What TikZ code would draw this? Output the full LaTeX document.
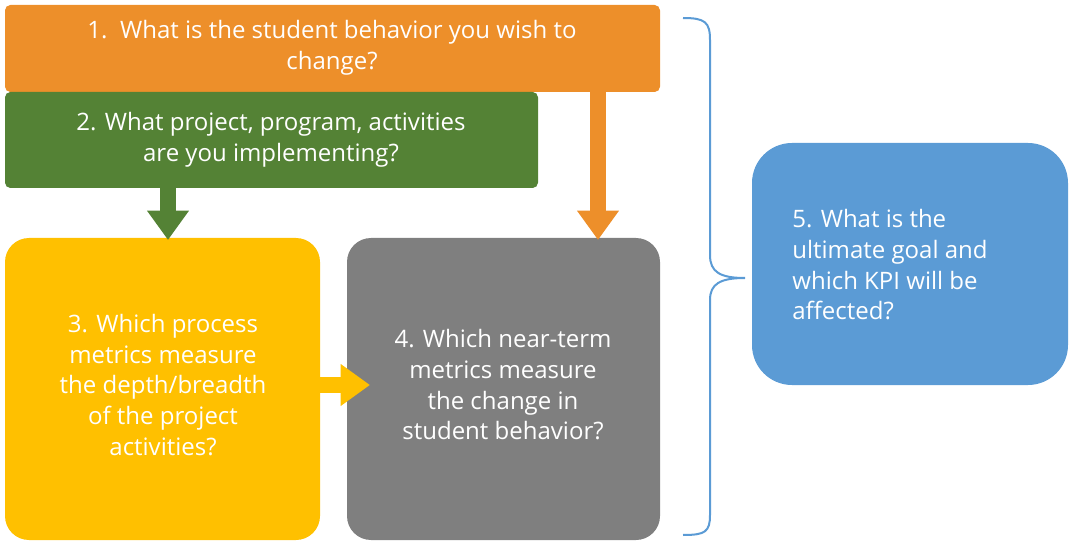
\documentclass[tikz,border=0pt]{standalone}
\usepackage{fontspec}
\setmainfont{Open Sans}
\usetikzlibrary{arrows.meta}
\definecolor{qorange}{RGB}{237,143,42}
\definecolor{qgreen}{RGB}{84,130,53}
\definecolor{qyellow}{RGB}{255,192,0}
\definecolor{qgray}{RGB}{127,127,127}
\definecolor{qblue}{RGB}{91,155,213}
\tikzset{
  qbox/.style={draw=none,text=white,align=center,font=\fontsize{18}{23}\selectfont,inner sep=0pt},
  blockarrow/.style={line width=12pt,-{Triangle[width=30pt,length=22pt]}}
}
\begin{document}
\begin{tikzpicture}[x=0.75pt,y=0.75pt,yscale=-1,xscale=1]
        \useasboundingbox (0,0) rectangle (1072,556);
        %Boxes
        \fill [qorange,rounded corners=4pt] (5,5) rectangle (660,92);
        \fill [qgreen,rounded corners=4pt] (5,92) rectangle (538,188);
        \fill [qyellow,rounded corners=18pt] (5,238) rectangle (320,540);
        \fill [qgray,rounded corners=18pt] (347,238) rectangle (660,540);
        \fill [qblue,rounded corners=30pt] (752,143) rectangle (1068,385);
        % Text Node
        \node [qbox] (q1) at (332,48) {1.\ \ What is the student behavior you wish to\\change?};
        \node [qbox] (q2) at (271,140) {2. What project, program, activities\\are you implementing?};
        \node [qbox] (q3) at (163,385) {3. Which process\\metrics measure\\the depth/breadth\\of the project\\activities?};
        \node [qbox] (q4) at (503,385) {4. Which near-term\\metrics measure\\the change in\\student behavior?};
        \node [qbox,align=left] (q5) at (890,265) {5. What is the\\ultimate goal and\\which KPI will be\\affected?};
        % Anchors
        \coordinate (g1) at (168,188);
        \coordinate (g2) at (168,240);
        \coordinate (o1) at (598,92);
        \coordinate (o2) at (598,240);
        \coordinate (y1) at (320,385);
        \coordinate (y2) at (370,385);
        % Arrows
        \draw [blockarrow,qgreen] (g1) -- (g2);
        \draw [blockarrow,qorange] (o1) -- (o2);
        \draw [blockarrow,qyellow] (y1) -- (y2);
        % Brace
        \draw [qblue,line width=1.5pt] (683,18) .. controls (705,18) and (710,22) .. (710,40) -- (710,255)
          .. controls (710,272) and (720,278) .. (745,278)
          .. controls (720,278) and (710,284) .. (710,300) -- (710,515)
          .. controls (710,532) and (705,535) .. (683,535);
\end{tikzpicture}
\end{document}
